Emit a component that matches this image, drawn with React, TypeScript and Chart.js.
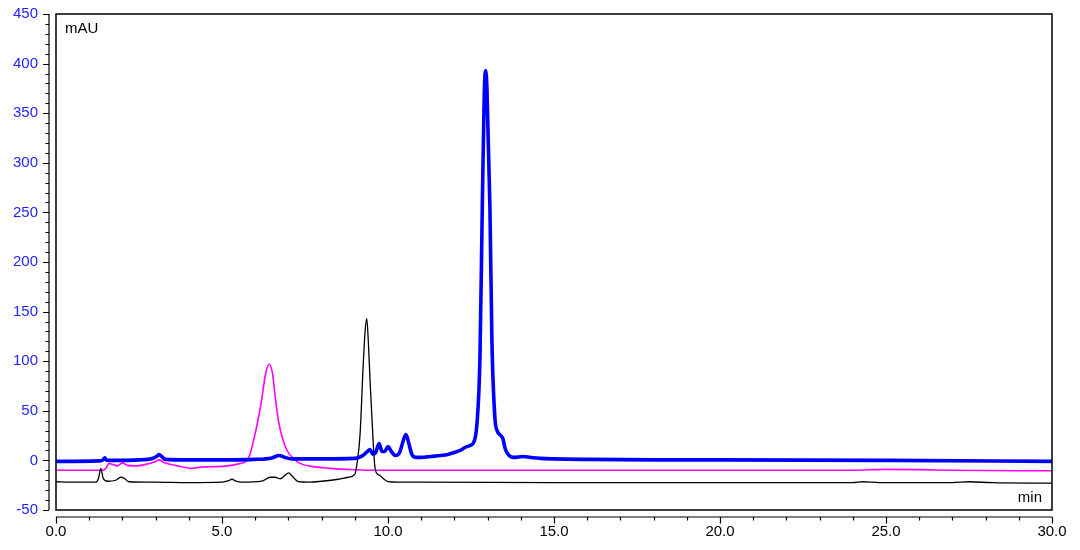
import React, { useEffect, useRef } from "react";
import { Chart, registerables } from "chart.js";

Chart.register(...registerables);

// Retention time (min) / absorbance (mAU) for each trace
const blueTimes = [0, 1.3, 1.42, 1.47, 1.52, 1.7, 2.5, 2.9, 3.03, 3.1, 3.18, 3.3, 4, 5, 6, 6.5, 6.72, 6.9, 7.1, 8, 9, 9.2, 9.35, 9.46, 9.55, 9.63, 9.73, 9.82, 9.9, 10.0, 10.1, 10.22, 10.35, 10.46, 10.54, 10.62, 10.72, 10.85, 11, 11.3, 11.6, 11.8, 12, 12.17, 12.32, 12.47, 12.56, 12.68, 12.77, 12.84, 12.9, 12.94, 12.98, 13.07, 13.13, 13.22, 13.3, 13.37, 13.46, 13.52, 13.6, 13.77, 14.07, 14.3, 14.6, 15, 16, 18, 20, 25, 30];
const blueValues = [-1, -0.5, 0.5, 2.5, 0.3, 0, 0.5, 2, 4, 6, 4, 1, 0.5, 0.5, 1, 2.5, 5, 3, 1.5, 1.5, 2, 4, 8, 11, 6, 8, 17, 9, 9, 14, 9, 5, 8, 20, 26, 18, 6, 3, 3, 4, 5, 6, 8, 10, 13, 15, 17, 37, 104, 255, 370, 393, 375, 255, 121, 43, 29, 26, 22, 13, 7, 3, 4, 3, 2, 1.5, 1, 0.5, 0.5, 0, -1];

const magentaTimes = [0, 1.0, 1.4, 1.5, 1.6, 1.7, 1.85, 2.0, 2.15, 2.4, 2.7, 3.0, 3.1, 3.25, 3.6, 4.1, 4.3, 4.5, 5.0, 5.5, 5.75, 5.85, 5.95, 6.08, 6.2, 6.3, 6.42, 6.52, 6.6, 6.7, 6.8, 6.96, 7.15, 7.35, 7.7, 8.25, 8.7, 9.5, 15, 20, 24, 25, 26, 27, 30];
const magentaValues = [-10, -10, -10, -8, -3, -4, -5.5, -2.5, -5, -5.5, -4, -1, 0.5, -2, -5, -8, -7, -6.5, -6, -3.5, 0, 7, 20, 40, 62, 85, 97, 88, 65, 40, 25, 10, 2, -3, -6, -8, -9, -10, -10, -10, -10, -9, -9.3, -10, -10.5];

const blackTimes = [0, 0.5, 1.2, 1.28, 1.35, 1.42, 1.55, 1.8, 1.95, 2.05, 2.2, 3, 4, 5, 5.2, 5.3, 5.42, 5.6, 6.2, 6.45, 6.6, 6.75, 6.9, 7.0, 7.12, 7.3, 7.6, 8, 8.5, 8.8, 9.0, 9.08, 9.16, 9.25, 9.31, 9.36, 9.41, 9.46, 9.54, 9.6, 9.66, 9.75, 9.85, 10.0, 10.3, 11, 15, 20, 24, 24.3, 24.8, 27, 27.5, 28.2, 30];
const blackValues = [-21.5, -22, -22, -18, -8, -18, -21, -20, -17, -18, -21.5, -22, -22.5, -22, -20.5, -19, -21, -22, -21, -17, -17, -18.5, -15, -12.5, -16, -21.5, -22, -21, -19, -17, -14, 0, 27, 94, 130, 143, 118, 80, 27, -5, -13, -15, -18, -21.5, -22, -22, -22.5, -22.5, -22.5, -21.5, -22.5, -22.5, -21.5, -22.5, -23];

const xMin = 0;
const xMax = 30;
const yMin = -50;
const yMax = 450;
const yUnit = "mAU";
const xUnit = "min";

const FONT = "Arial, 'Liberation Sans', sans-serif";

function toPoints(ts: number[], vs: number[]) {
  return ts.map((t, i) => ({ x: t, y: vs[i] }));
}

const axesPlugin = {
  id: "hplcAxes",
  afterDraw(chart: any) {
    const ctx = chart.ctx;
    const a = chart.chartArea;
    const xs = chart.scales.x;
    const ys = chart.scales.y;
    ctx.save();
    ctx.strokeStyle = "#000";
    // box
    ctx.lineWidth = 1.5;
    ctx.strokeRect(a.left, a.top, a.right - a.left, a.bottom - a.top);
    // y axis line + ticks
    const yAxisX = a.left - 7;
    ctx.lineWidth = 1.2;
    ctx.beginPath();
    ctx.moveTo(yAxisX, a.top);
    ctx.lineTo(yAxisX, a.bottom);
    ys.ticks.forEach((t: any) => {
      const py = Math.round(ys.getPixelForValue(t.value)) + 0.5;
      const major = t.value % 50 === 0;
      ctx.moveTo(yAxisX - (major ? 6 : 3.5), py);
      ctx.lineTo(yAxisX, py);
    });
    ctx.stroke();
    // x axis line + ticks
    const xAxisY = a.bottom + 7;
    ctx.beginPath();
    ctx.moveTo(a.left, xAxisY);
    ctx.lineTo(a.right, xAxisY);
    xs.ticks.forEach((t: any) => {
      const px = Math.round(xs.getPixelForValue(t.value)) + 0.5;
      const major = t.value % 5 === 0;
      ctx.moveTo(px, xAxisY);
      ctx.lineTo(px, xAxisY + (major ? 6.5 : 3.5));
    });
    ctx.stroke();
    // unit labels
    ctx.fillStyle = "#000";
    ctx.font = "15px " + FONT;
    ctx.textBaseline = "alphabetic";
    ctx.textAlign = "left";
    ctx.fillText(yUnit, a.left + 9, a.top + 19);
    ctx.textAlign = "right";
    ctx.fillText(xUnit, a.right - 10, a.bottom - 8);
    ctx.restore();
  },
};

export default function App() {
  const ref = useRef<HTMLCanvasElement | null>(null);
  useEffect(() => {
    document.body.style.margin = "0";
    if (!ref.current) return;
    const chart = new Chart(ref.current, {
      type: "line",
      data: {
        datasets: [
          {
            label: "blue",
            data: toPoints(blueTimes, blueValues),
            borderColor: "#0000ff",
            borderWidth: 3.6,
            pointRadius: 0,
            cubicInterpolationMode: "monotone",
            borderJoinStyle: "round",
            borderCapStyle: "round",
          },
          {
            label: "black",
            data: toPoints(blackTimes, blackValues),
            borderColor: "#000000",
            borderWidth: 1.3,
            pointRadius: 0,
            cubicInterpolationMode: "monotone",
            borderJoinStyle: "round",
          },
          {
            label: "magenta",
            data: toPoints(magentaTimes, magentaValues),
            borderColor: "#ff00ff",
            borderWidth: 1.6,
            pointRadius: 0,
            cubicInterpolationMode: "monotone",
            borderJoinStyle: "round",
          },
        ],
      },
      options: {
        animation: false,
        responsive: false,
        devicePixelRatio: 1,
        parsing: true,
        layout: { padding: { top: 14, right: 28, left: 0, bottom: 0 } },
        plugins: {
          legend: { display: false },
          tooltip: { enabled: false },
        },
        scales: {
          x: {
            type: "linear",
            min: xMin,
            max: xMax,
            afterFit: (s: any) => {
              s.height = 40;
              s.paddingLeft = 0;
              s.paddingRight = 0;
            },
            grid: { display: false, drawTicks: false },
            border: { display: false },
            ticks: {
              stepSize: 1,
              autoSkip: false,
              maxRotation: 0,
              padding: 13,
              color: "#000",
              font: { family: FONT, size: 15 },
              callback: (v: any) => (Number(v) % 5 === 0 ? Number(v).toFixed(1) : ""),
            },
          },
          y: {
            type: "linear",
            min: yMin,
            max: yMax,
            afterFit: (s: any) => {
              s.width = 56;
              s.paddingTop = 0;
              s.paddingBottom = 0;
            },
            grid: { display: false, drawTicks: false },
            border: { display: false },
            ticks: {
              stepSize: 10,
              autoSkip: false,
              padding: 18,
              color: "#1f1fff",
              font: { family: FONT, size: 15 },
              callback: (v: any) => (Number(v) % 50 === 0 ? String(v) : ""),
            },
          },
        },
      },
      plugins: [axesPlugin],
    } as any);
    return () => chart.destroy();
  }, []);
  return (
    <div style={{ width: 1080, height: 550 }}>
      <canvas ref={ref} width={1080} height={550} />
    </div>
  );
}
